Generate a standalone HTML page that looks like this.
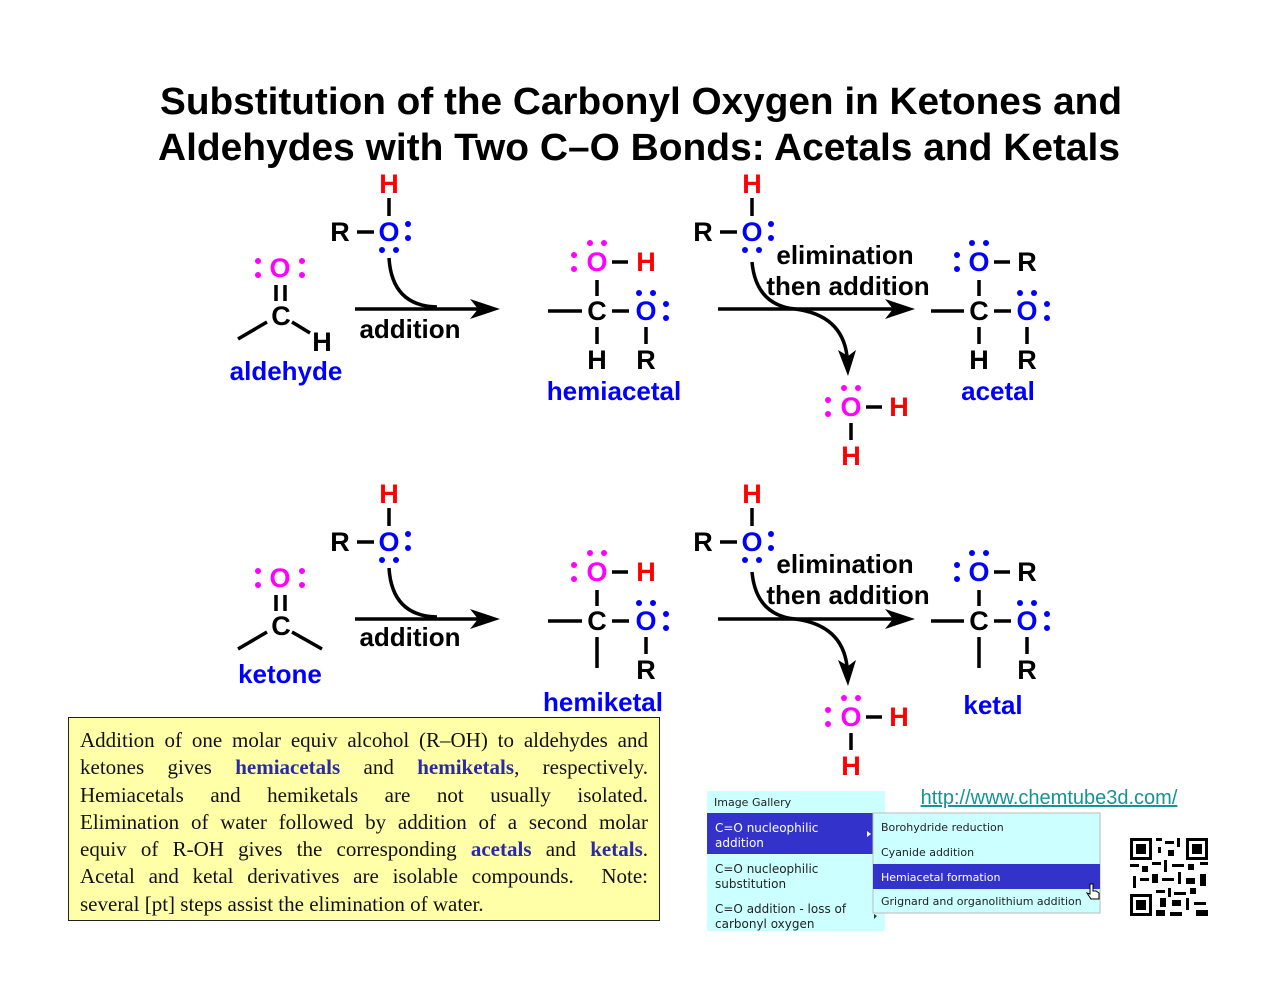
<!DOCTYPE html>
<html><head><meta charset="utf-8"><style>
html,body{margin:0;padding:0;background:#fff}
svg{display:block}
.a{font-family:"Liberation Sans",sans-serif;font-weight:bold;font-size:27px;text-anchor:middle}
.l{font-family:"Liberation Sans",sans-serif;font-weight:bold;font-size:26px;text-anchor:middle}
.m{font-family:"DejaVu Sans","Liberation Sans",sans-serif;font-size:12px}
#box{position:absolute;left:68px;top:717px;width:568px;height:180px;padding:9px 11px 13px 11px;background:#ffffa8;border:1.5px solid #222;font-family:"Liberation Serif",serif;font-size:21px;line-height:27.3px;color:#111}
#box div{text-align:justify;text-align-last:justify;height:27.3px}
#box div.e{text-align-last:left}
#box b{color:#2a2aa8}
</style></head><body>
<div style="position:relative;width:1280px;height:989px">
<svg width="1280" height="989" viewBox="0 0 1280 989" xmlns="http://www.w3.org/2000/svg">
<text x="641" y="114" font-family="Liberation Sans,sans-serif" font-weight="bold" font-size="38" text-anchor="middle" textLength="962" lengthAdjust="spacingAndGlyphs">Substitution of the Carbonyl Oxygen in Ketones and</text>
<text x="639" y="160" font-family="Liberation Sans,sans-serif" font-weight="bold" font-size="38" text-anchor="middle" textLength="962" lengthAdjust="spacingAndGlyphs">Aldehydes with Two C–O Bonds: Acetals and Ketals</text>

<g id="top" stroke-width="3.5" stroke="#000" fill="none">
<line x1="389" y1="198" x2="389" y2="216"/>
<line x1="357" y1="232" x2="374" y2="232"/>
<path d="M389 258 Q392 306 437 307"/>
<line x1="355" y1="309" x2="480" y2="309"/>
<line x1="276" y1="285" x2="276" y2="301"/><line x1="285" y1="285" x2="285" y2="301"/>
<line x1="238" y1="339" x2="267" y2="322"/>
<line x1="292" y1="322" x2="310" y2="333"/>
<line x1="548" y1="311" x2="582" y2="311"/>
<line x1="612" y1="311" x2="629" y2="311"/>
<line x1="597" y1="280" x2="597" y2="296"/>
<line x1="612" y1="262" x2="628" y2="262"/>
<line x1="597" y1="327" x2="597" y2="344"/>
<line x1="646" y1="327" x2="646" y2="344"/>
<line x1="752" y1="198" x2="752" y2="216"/>
<line x1="720" y1="232" x2="737" y2="232"/>
<line x1="718" y1="309" x2="895" y2="309"/>
<path d="M752 262 Q756 305 795 309 Q842 315 847 356"/>
<line x1="866" y1="407" x2="882" y2="407"/>
<line x1="851" y1="423" x2="851" y2="440"/>
<line x1="931" y1="311" x2="964" y2="311"/>
<line x1="994" y1="311" x2="1011" y2="311"/>
<line x1="979" y1="280" x2="979" y2="296"/>
<line x1="994" y1="262" x2="1010" y2="262"/>
<line x1="979" y1="327" x2="979" y2="344"/>
<line x1="1027" y1="327" x2="1027" y2="344"/>
</g>
<g fill="#000">
<polygon points="500,309 470,299 478,309 470,319"/>
<polygon points="915,309 885,299 893,309 885,319"/>
<polygon points="848,376 838,350 848,356 856,350"/>
</g>
<g class="a">
<text x="389" y="193" fill="#f00">H</text>
<text x="340" y="241">R</text>
<text x="389" y="241" fill="#00f">O</text>
<text x="280" y="277" fill="#f0f">O</text>
<text x="281" y="325">C</text>
<text x="322" y="351">H</text>
<text x="597" y="271" fill="#f0f">O</text>
<text x="646" y="271" fill="#f00">H</text>
<text x="597" y="320">C</text>
<text x="646" y="320" fill="#00f">O</text>
<text x="597" y="369">H</text>
<text x="646" y="369">R</text>
<text x="752" y="193" fill="#f00">H</text>
<text x="703" y="241">R</text>
<text x="752" y="241" fill="#00f">O</text>
<text x="851" y="416" fill="#f0f">O</text>
<text x="899" y="416" fill="#f00">H</text>
<text x="851" y="465" fill="#f00">H</text>
<text x="979" y="271" fill="#00f">O</text>
<text x="1027" y="271">R</text>
<text x="979" y="320">C</text>
<text x="1027" y="320" fill="#00f">O</text>
<text x="979" y="369">H</text>
<text x="1027" y="369">R</text>
</g>
<g class="l">
<text x="410" y="338">addition</text>
<text x="845" y="264">elimination</text>
<text x="848" y="295">then addition</text>
<text x="286" y="380" fill="#00f">aldehyde</text>
<text x="614" y="400" fill="#00f">hemiacetal</text>
<text x="998" y="400" fill="#00f">acetal</text>
</g>
<g fill="#00f">
<circle cx="408" cy="224" r="3"/><circle cx="408" cy="238" r="3"/>
<circle cx="382" cy="250" r="3"/><circle cx="396" cy="250" r="3"/>
<circle cx="771" cy="224" r="3"/><circle cx="771" cy="238" r="3"/>
<circle cx="745" cy="250" r="3"/><circle cx="759" cy="250" r="3"/>
<circle cx="639" cy="293" r="3"/><circle cx="653" cy="293" r="3"/>
<circle cx="666" cy="304" r="3"/><circle cx="666" cy="318" r="3"/>
<circle cx="972" cy="243" r="3"/><circle cx="986" cy="243" r="3"/>
<circle cx="957" cy="255" r="3"/><circle cx="957" cy="269" r="3"/>
<circle cx="1020" cy="293" r="3"/><circle cx="1034" cy="293" r="3"/>
<circle cx="1047" cy="304" r="3"/><circle cx="1047" cy="318" r="3"/>
</g>
<g fill="#f0f">
<circle cx="258" cy="261" r="3"/><circle cx="258" cy="275" r="3"/>
<circle cx="302" cy="261" r="3"/><circle cx="302" cy="275" r="3"/>
<circle cx="590" cy="243" r="3"/><circle cx="604" cy="243" r="3"/>
<circle cx="574" cy="255" r="3"/><circle cx="574" cy="269" r="3"/>
<circle cx="844" cy="388" r="3"/><circle cx="858" cy="388" r="3"/>
<circle cx="828" cy="400" r="3"/><circle cx="828" cy="414" r="3"/>
</g>

<g transform="translate(0,310)">
<g stroke-width="3.5" stroke="#000" fill="none">
<line x1="389" y1="198" x2="389" y2="216"/>
<line x1="357" y1="232" x2="374" y2="232"/>
<path d="M389 258 Q392 306 437 307"/>
<line x1="355" y1="309" x2="480" y2="309"/>
<line x1="276" y1="285" x2="276" y2="301"/><line x1="285" y1="285" x2="285" y2="301"/>
<line x1="238" y1="339" x2="267" y2="322"/>
<line x1="292" y1="322" x2="322" y2="339"/>
<line x1="548" y1="311" x2="582" y2="311"/>
<line x1="612" y1="311" x2="629" y2="311"/>
<line x1="597" y1="280" x2="597" y2="296"/>
<line x1="612" y1="262" x2="628" y2="262"/>
<line x1="597" y1="327" x2="597" y2="358"/>
<line x1="646" y1="327" x2="646" y2="344"/>
<line x1="752" y1="198" x2="752" y2="216"/>
<line x1="720" y1="232" x2="737" y2="232"/>
<line x1="718" y1="309" x2="895" y2="309"/>
<path d="M752 262 Q756 305 795 309 Q842 315 847 356"/>
<line x1="866" y1="407" x2="882" y2="407"/>
<line x1="851" y1="423" x2="851" y2="440"/>
<line x1="931" y1="311" x2="964" y2="311"/>
<line x1="994" y1="311" x2="1011" y2="311"/>
<line x1="979" y1="280" x2="979" y2="296"/>
<line x1="994" y1="262" x2="1010" y2="262"/>
<line x1="979" y1="327" x2="979" y2="358"/>
<line x1="1027" y1="327" x2="1027" y2="344"/>
</g>
<g fill="#000">
<polygon points="500,309 470,299 478,309 470,319"/>
<polygon points="915,309 885,299 893,309 885,319"/>
<polygon points="848,376 838,350 848,356 856,350"/>
</g>
<g class="a">
<text x="389" y="193" fill="#f00">H</text>
<text x="340" y="241">R</text>
<text x="389" y="241" fill="#00f">O</text>
<text x="280" y="277" fill="#f0f">O</text>
<text x="281" y="325">C</text>
<text x="597" y="271" fill="#f0f">O</text>
<text x="646" y="271" fill="#f00">H</text>
<text x="597" y="320">C</text>
<text x="646" y="320" fill="#00f">O</text>
<text x="646" y="369">R</text>
<text x="752" y="193" fill="#f00">H</text>
<text x="703" y="241">R</text>
<text x="752" y="241" fill="#00f">O</text>
<text x="851" y="416" fill="#f0f">O</text>
<text x="899" y="416" fill="#f00">H</text>
<text x="851" y="465" fill="#f00">H</text>
<text x="979" y="271" fill="#00f">O</text>
<text x="1027" y="271">R</text>
<text x="979" y="320">C</text>
<text x="1027" y="320" fill="#00f">O</text>
<text x="1027" y="369">R</text>
</g>
<g class="l">
<text x="410" y="336">addition</text>
<text x="845" y="263">elimination</text>
<text x="848" y="294">then addition</text>
<text x="280" y="373" fill="#00f">ketone</text>
<text x="603" y="401" fill="#00f">hemiketal</text>
<text x="993" y="404" fill="#00f">ketal</text>
</g>
<g fill="#00f">
<circle cx="408" cy="224" r="3"/><circle cx="408" cy="238" r="3"/>
<circle cx="382" cy="250" r="3"/><circle cx="396" cy="250" r="3"/>
<circle cx="771" cy="224" r="3"/><circle cx="771" cy="238" r="3"/>
<circle cx="745" cy="250" r="3"/><circle cx="759" cy="250" r="3"/>
<circle cx="639" cy="293" r="3"/><circle cx="653" cy="293" r="3"/>
<circle cx="666" cy="304" r="3"/><circle cx="666" cy="318" r="3"/>
<circle cx="972" cy="243" r="3"/><circle cx="986" cy="243" r="3"/>
<circle cx="957" cy="255" r="3"/><circle cx="957" cy="269" r="3"/>
<circle cx="1020" cy="293" r="3"/><circle cx="1034" cy="293" r="3"/>
<circle cx="1047" cy="304" r="3"/><circle cx="1047" cy="318" r="3"/>
</g>
<g fill="#f0f">
<circle cx="258" cy="261" r="3"/><circle cx="258" cy="275" r="3"/>
<circle cx="302" cy="261" r="3"/><circle cx="302" cy="275" r="3"/>
<circle cx="590" cy="243" r="3"/><circle cx="604" cy="243" r="3"/>
<circle cx="574" cy="255" r="3"/><circle cx="574" cy="269" r="3"/>
<circle cx="844" cy="388" r="3"/><circle cx="858" cy="388" r="3"/>
<circle cx="828" cy="400" r="3"/><circle cx="828" cy="414" r="3"/>
</g>
</g>

<rect x="707" y="791" width="178" height="140" fill="#ccffff"/>
<rect x="707" y="813" width="167" height="41" fill="#3333cc"/>
<rect x="873" y="813" width="227" height="100" fill="#ccffff" stroke="#bbb" stroke-width="1"/>
<rect x="873" y="864" width="227" height="25" fill="#3333cc"/>
<g class="m" fill="#222">
<text x="714" y="806" font-size="11">Image Gallery</text>
<text x="715" y="832" fill="#fff">C=O nucleophilic</text>
<text x="715" y="847" fill="#fff">addition</text>
<text x="715" y="873">C=O nucleophilic</text>
<text x="715" y="888">substitution</text>
<text x="715" y="913">C=O addition - loss of</text>
<text x="715" y="928">carbonyl oxygen</text>
<text x="881" y="831" font-size="11">Borohydride reduction</text>
<text x="881" y="856" font-size="11">Cyanide addition</text>
<text x="881" y="881" font-size="11" fill="#fff">Hemiacetal formation</text>
<text x="881" y="905" font-size="11">Grignard and organolithium addition</text>
</g>
<polygon points="867,831 871,834 867,837" fill="#fff"/>
<polygon points="874,914 877,916 874,919" fill="#333"/>
<text x="1049" y="804" font-family="Liberation Sans,sans-serif" font-size="20" fill="#149494" text-anchor="middle" text-decoration="underline">http://www.chemtube3d.com/</text>

<g fill="#000">
<rect x="1130" y="838" width="22" height="22"/><rect x="1133" y="841" width="16" height="16" fill="#fff"/><rect x="1136" y="844" width="10" height="10"/>
<rect x="1186" y="838" width="22" height="22"/><rect x="1189" y="841" width="16" height="16" fill="#fff"/><rect x="1192" y="844" width="10" height="10"/>
<rect x="1130" y="894" width="22" height="22"/><rect x="1133" y="897" width="16" height="16" fill="#fff"/><rect x="1136" y="900" width="10" height="10"/>
<rect x="1156" y="838" width="6" height="3"/><rect x="1165" y="841" width="9" height="3"/><rect x="1158" y="847" width="3" height="6"/><rect x="1168" y="850" width="6" height="6"/><rect x="1177" y="838" width="3" height="9"/>
<rect x="1130" y="864" width="9" height="3"/><rect x="1142" y="866" width="6" height="6"/><rect x="1152" y="862" width="9" height="3"/><rect x="1164" y="860" width="3" height="12"/><rect x="1172" y="864" width="12" height="3"/><rect x="1188" y="864" width="6" height="6"/><rect x="1200" y="862" width="8" height="3"/>
<rect x="1133" y="876" width="3" height="12"/><rect x="1140" y="878" width="9" height="3"/><rect x="1152" y="874" width="6" height="9"/><rect x="1162" y="878" width="12" height="3"/><rect x="1178" y="872" width="3" height="12"/><rect x="1186" y="878" width="9" height="6"/><rect x="1200" y="874" width="6" height="12"/>
<rect x="1156" y="890" width="9" height="3"/><rect x="1168" y="888" width="3" height="9"/><rect x="1174" y="892" width="12" height="3"/><rect x="1190" y="888" width="6" height="6"/><rect x="1160" y="898" width="6" height="9"/><rect x="1172" y="900" width="9" height="6"/><rect x="1186" y="898" width="3" height="12"/><rect x="1194" y="902" width="12" height="3"/><rect x="1156" y="910" width="9" height="6"/><rect x="1170" y="912" width="12" height="4"/><rect x="1196" y="910" width="12" height="6"/>
</g>
<path d="M1090 884 l0 10 l-3 -1 l4 6 l8 0 l0 -6 l-3 -2 l-3 0 l0 -7 z" fill="#fff" stroke="#000" stroke-width="1"/>
</svg>
<div id="box">
<div>Addition of one molar equiv alcohol (R–OH) to aldehydes and</div>
<div>ketones gives <b>hemiacetals</b> and <b>hemiketals</b>, respectively.</div>
<div>Hemiacetals and hemiketals are not usually isolated.</div>
<div>Elimination of water followed by addition of a second molar</div>
<div>equiv of R-OH gives the corresponding <b>acetals</b> and <b>ketals</b>.</div>
<div>Acetal and ketal derivatives are isolable compounds.&nbsp; Note:</div>
<div class="e">several [pt] steps assist the elimination of water.</div>
</div>
</div>
</body></html>
